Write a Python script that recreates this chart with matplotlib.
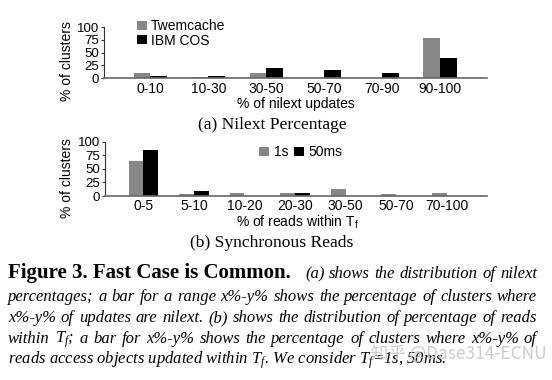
import numpy as np
import matplotlib
matplotlib.use("Agg")
import matplotlib.pyplot as plt

# data
nilext_bins = ["0-10", "10-30", "30-50", "50-70", "70-90", "90-100"]
twemcache = [10, 3, 11, 0, 0, 78]
ibm_cos = [5, 5, 20, 16, 11, 40]

read_bins = ["0-5", "5-10", "10-20", "20-30", "30-50", "50-70", "70-100"]
tf_1s = [65, 3, 5, 5, 12, 3, 5]
tf_50ms = [85, 9, 0, 5, 0, 0, 0]

caption_lines = [
    "percentages; a bar for a range x%-y% shows the percentage of clusters where",
    "x%-y% of updates are nilext. (b) shows the distribution of percentage of reads",
    "within $T_f$; a bar for x%-y% shows the percentage of clusters where x%-y% of",
    "reads access objects updated within $T_f$. We consider $T_f$=1s, 50ms.",
]

plt.rcParams["font.family"] = ["Liberation Sans", "DejaVu Sans"]
plt.rcParams["mathtext.fontset"] = "custom"
plt.rcParams["mathtext.rm"] = "Liberation Serif"
plt.rcParams["mathtext.it"] = "Liberation Serif:italic"
plt.rcParams["mathtext.sf"] = "Liberation Sans"

W, H = 552, 380
GRAY = "#878787"
fig = plt.figure(figsize=(W / 100, H / 100), dpi=100)


def fx(x):
    return x / W


def fy(y):
    return 1 - y / H


def style_axes(ax):
    for s in ("top", "right"):
        ax.spines[s].set_visible(False)
    ax.spines["left"].set_color("#333333")
    ax.spines["left"].set_linewidth(0.8)
    ax.spines["bottom"].set_color("#666666")
    ax.spines["bottom"].set_linewidth(1.2)
    ax.set_ylim(0, 100)
    ax.set_yticks([0, 25, 50, 75, 100])
    ax.tick_params(axis="x", length=0, pad=2.5, labelsize=10)
    ax.tick_params(axis="y", length=2.5, width=0.8, pad=1, labelsize=9.5, color="#333333")


# (a) nilext percentage
ax1 = fig.add_axes([fx(104), fy(78.3), (487 - 104) / W, 51.3 / H])
x = np.arange(len(nilext_bins))
w = 0.287
ax1.bar(x - w / 2, twemcache, w, color=GRAY, label="Twemcache")
ax1.bar(x + w / 2, ibm_cos, w, color="black", label="IBM COS")
ax1.set_xlim(-0.8, 5.81)
ax1.set_xticks(x)
ax1.set_xticklabels(nilext_bins)
style_axes(ax1)
ax1.legend(loc="upper left", bbox_to_anchor=(fx(137), fy(19)), bbox_transform=fig.transFigure,
           frameon=False, fontsize=10, handlelength=0.72, handleheight=0.6,
           handletextpad=0.3, labelspacing=0.05, borderpad=0, borderaxespad=0)
fig.text(fx(296), fy(104), "% of nilext updates", ha="center", va="center", fontsize=10)
fig.text(fx(67), fy(61), "% of clusters", ha="center", va="center", rotation=90, fontsize=10)

# (b) synchronous reads
ax2 = fig.add_axes([fx(105), fy(196), (487 - 105) / W, 54.3 / H])
x2 = np.arange(len(read_bins))
w2 = 0.29
ax2.bar(x2 - w2 / 2, tf_1s, w2, color=GRAY, label="1s")
ax2.bar(x2 + w2 / 2, tf_50ms, w2, color="black", label="50ms")
ax2.set_xlim(-0.76, 6.8)
ax2.set_xticks(x2)
ax2.set_xticklabels(read_bins)
style_axes(ax2)
ax2.legend(loc="center left", bbox_to_anchor=(fx(259), fy(152)), bbox_transform=fig.transFigure,
           ncol=2, frameon=False, fontsize=10, handlelength=0.72, handleheight=0.6,
           handletextpad=0.35, columnspacing=0.4, borderpad=0, borderaxespad=0)
fig.text(fx(297), fy(222), "% of reads within T$_{\\mathsf{f}}$", ha="center", va="center", fontsize=10)
fig.text(fx(67), fy(178), "% of clusters", ha="center", va="center", rotation=90, fontsize=10)

renderer = fig.canvas.get_renderer()


def width_px(t):
    return t.get_window_extent(renderer).width


def fit_text(x, y, s, target, **kw):
    t = fig.text(fx(x), fy(y), s, fontsize=10, **kw)
    t.set_fontsize(10 * target / width_px(t))
    return t


def justify(x0, x1, yb, s, size, **kw):
    words = s.split(" ")
    ts = [fig.text(0, 0, wd, fontsize=size, va="baseline", **kw) for wd in words]
    ws = [width_px(t) for t in ts]
    gap = (x1 - x0 - sum(ws)) / (len(words) - 1)
    xx = x0
    for t, ww in zip(ts, ws):
        t.set_position((fx(xx), fy(yb)))
        xx += ww + gap


serif = dict(family=["Liberation Serif", "DejaVu Serif"])
italic = dict(family=["Liberation Serif", "DejaVu Serif"], style="italic")

fit_text(272, 125, "(a) Nilext Percentage", 149, ha="center", va="center", **serif)
fit_text(272, 243, "(b) Synchronous Reads", 163, ha="center", va="center", **serif)

fit_text(8, 278, "Figure 3. Fast Case is Common.", 284, ha="left", va="baseline",
         weight="bold", **serif)

# pick the italic size so the widest full line fits the column
probe = fig.text(0, 0, caption_lines[1], fontsize=10, **italic)
isize = 10 * 529 / width_px(probe) * 0.985
probe.remove()

justify(305, 537, 278, "(a) shows the distribution of nilext", isize, **italic)
baselines = [301, 322, 343, 364]
for line, yb in zip(caption_lines[:3], baselines[:3]):
    justify(8, 537, yb, line, isize, **italic)
fig.text(fx(8), fy(baselines[3]), caption_lines[3], fontsize=isize, va="baseline", **italic)

fig.text(fx(371), fy(354), "知乎 @Dase314-ECNU", fontsize=12.5, color="#c4c4c4", alpha=0.85,
         ha="left", va="center", family=["Noto Sans CJK SC", "DejaVu Sans"])

fig.savefig("out.png", dpi=100, facecolor="white")
